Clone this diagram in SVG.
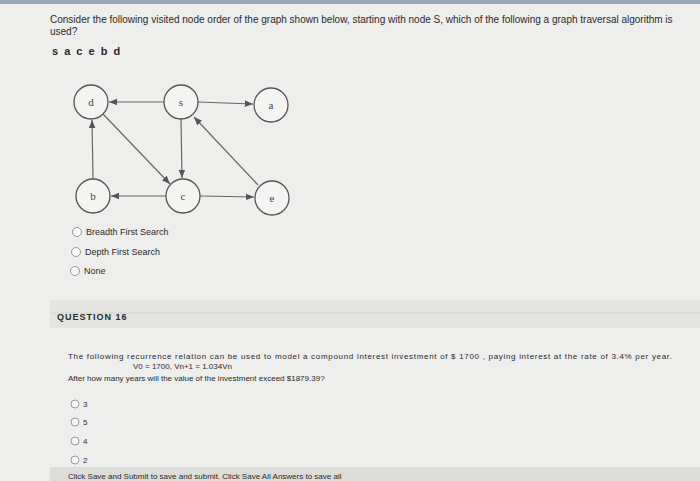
<svg xmlns="http://www.w3.org/2000/svg" width="700" height="481" viewBox="0 0 700 481">
<style>
text{font-family:"Liberation Sans",Arial,sans-serif;fill:#2a2a2a}
.n circle{fill:#f4f4f2;stroke:#555;stroke-width:1.3}
.n text{font-family:"Liberation Serif",serif;font-size:11px;text-anchor:middle;fill:#444}
.e line{stroke:#666;stroke-width:1.2;marker-end:url(#ar)}
.r{fill:#f8f8f8;stroke:#999;stroke-width:1}
</style>
<defs><marker id="ar" viewBox="0 0 10 10" refX="10" refY="5" markerWidth="7" markerHeight="7" orient="auto"><path d="M0,1L10,5L0,9z" fill="#555"/></marker></defs>
<rect width="700" height="481" fill="#eeeeec"/>
<rect x="0" y="0" width="700" height="4" fill="#9aa7b8"/>
<text x="50" y="23" font-size="10">Consider the following visited node order of the graph shown below, starting with node S, which of the following a graph traversal algorithm is</text>
<text x="50" y="35" font-size="10">used?</text>
<text x="52" y="55" font-size="11" font-weight="bold" letter-spacing="1.5">s a c e b d</text>
<g class="e">
<line x1="164" y1="102" x2="109" y2="102"/>
<line x1="198" y1="102" x2="253" y2="104"/>
<line x1="181" y1="119" x2="182" y2="178"/>
<line x1="103" y1="114" x2="170" y2="184"/>
<line x1="93" y1="179" x2="92" y2="120"/>
<line x1="166" y1="196" x2="111" y2="196"/>
<line x1="200" y1="196" x2="254" y2="197"/>
<line x1="258" y1="185" x2="194" y2="117"/>
</g>
<g id="d" class="n"><circle cx="91" cy="102" r="17"/><text x="91" y="106">d</text></g>
<g id="s" class="n"><circle cx="181" cy="102" r="17"/><text x="181" y="106">s</text></g>
<g id="a" class="n"><circle cx="271" cy="105" r="17"/><text x="271" y="109">a</text></g>
<g id="b" class="n"><circle cx="93" cy="196" r="17"/><text x="93" y="200">b</text></g>
<g id="c" class="n"><circle cx="183" cy="196" r="17"/><text x="183" y="200">c</text></g>
<g id="e" class="n"><circle cx="272" cy="198" r="17"/><text x="272" y="202">e</text></g>
<circle class="r" cx="77" cy="232" r="4.5"/><text x="86" y="235" font-size="9">Breadth First Search</text>
<circle class="r" cx="76" cy="252" r="4.5"/><text x="85" y="255" font-size="9">Depth First Search</text>
<circle class="r" cx="75" cy="271" r="4.5"/><text x="84" y="274" font-size="9">None</text>
<rect x="50" y="300" width="650" height="28" fill="#e4e4e1"/>
<line x1="50" y1="313" x2="700" y2="313" stroke="#d2d2cf"/>
<text x="57" y="320" font-size="9" font-weight="bold" letter-spacing="1">QUESTION 16</text>
<text x="68" y="359" font-size="8" textLength="604" lengthAdjust="spacing">The following recurrence relation can be used to model a compound interest investment of $ 1700 , paying interest at the rate of 3.4% per year.</text>
<text x="133" y="369" font-size="8">V0 = 1700, Vn+1 = 1.034Vn</text>
<text x="68" y="381" font-size="8">After how many years will the value of the investment exceed $1879.39?</text>
<circle class="r" cx="75" cy="404" r="4"/><text x="83" y="407" font-size="8">3</text>
<circle class="r" cx="75" cy="422" r="4"/><text x="83" y="425" font-size="8">5</text>
<circle class="r" cx="75" cy="441" r="4"/><text x="83" y="444" font-size="8">4</text>
<circle class="r" cx="75" cy="460" r="4"/><text x="83" y="463" font-size="8">2</text>
<rect x="50" y="467" width="650" height="14" fill="#dcdcd9"/>
<text x="68" y="479" font-size="8" fill="#999">Click Save and Submit to save and submit. Click Save All Answers to save all</text>
</svg>
